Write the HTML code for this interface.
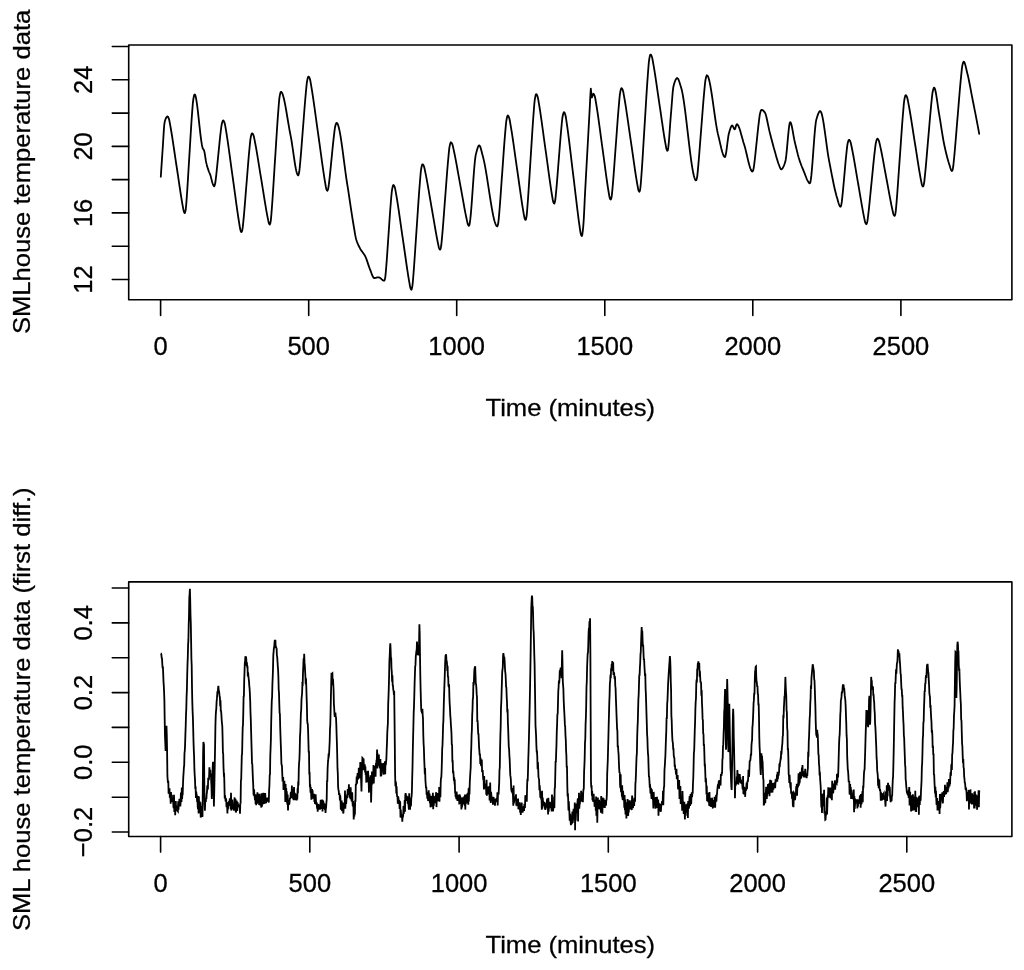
<!DOCTYPE html>
<html lang="en"><head><meta charset="utf-8"><title>SML house temperature data</title>
<style>
html,body{margin:0;padding:0;background:#fff}
body{width:1024px;height:970px;overflow:hidden}
svg{display:block}
text{font-family:"Liberation Sans",Arial,Helvetica,sans-serif;font-size:25.5px;fill:#000;stroke:#000;stroke-width:.3px}
text.t{font-size:25.6px}
.l{fill:none;stroke:#000;stroke-width:1.6;stroke-linecap:round;stroke-linejoin:round}
</style></head><body>
<svg width="1024" height="970" viewBox="0 0 1024 970">
<rect width="1024" height="970" fill="#fff"/>
<g id="plot-top">
<rect class="l" x="128.7" y="45.0" width="883.2" height="254.8"/>
<path class="l" d="M160.6,299.8v15.6M308.7,299.8v15.6M456.7,299.8v15.6M604.8,299.8v15.6M752.8,299.8v15.6M900.9,299.8v15.6M128.7,279.5h-16.4M128.7,246.2h-16.4M128.7,212.9h-16.4M128.7,179.6h-16.4M128.7,146.4h-16.4M128.7,113.1h-16.4M128.7,79.8h-16.4M128.7,46.5h-16.4"/>
<text transform="translate(160.6,355.0) scale(1,1.04)" text-anchor="middle">0</text>
<text transform="translate(308.7,355.0) scale(1,1.04)" text-anchor="middle">500</text>
<text transform="translate(456.7,355.0) scale(1,1.04)" text-anchor="middle">1000</text>
<text transform="translate(604.8,355.0) scale(1,1.04)" text-anchor="middle">1500</text>
<text transform="translate(752.8,355.0) scale(1,1.04)" text-anchor="middle">2000</text>
<text transform="translate(900.9,355.0) scale(1,1.04)" text-anchor="middle">2500</text>
<text transform="translate(91.8,279.5) rotate(-90) scale(1,1.04)" text-anchor="middle">12</text>
<text transform="translate(91.8,212.9) rotate(-90) scale(1,1.04)" text-anchor="middle">16</text>
<text transform="translate(91.8,146.4) rotate(-90) scale(1,1.04)" text-anchor="middle">20</text>
<text transform="translate(91.8,79.8) rotate(-90) scale(1,1.04)" text-anchor="middle">24</text>
<text class="t" transform="translate(570.3,416.2) scale(1,0.965)" text-anchor="middle">Time (minutes)</text>
<text class="t" transform="translate(30.0,171.9) rotate(-90) scale(1,0.965)" text-anchor="middle">SMLhouse temperature data</text>
<path class="l" style="stroke-width:1.8" d="M160.8,176.8l0.5-7.7l0.5-7.5l0.5-7.3l0.5-7.3l0.5-8.3l0.5-8.1l0.5-6.3l0.5-3l0.5-1.5l0.5-1.3l0.5-1l0.5-0.6l0.5-0.4l0.5,0.1l0.5,0.8l0.5,1.2l0.5,1.7l0.5,2.7l0.5,2.7l0.5,2.8l0.5,3l0.5,3l0.5,3.2l0.5,3.3l0.5,3.3l0.5,3.3l0.5,3.4l0.5,3.4l0.5,3.4l0.5,3.4l0.5,3.3l0.5,3.2l0.5,3.3l0.5,3.4l0.5,3.3l0.5,3.4l0.5,3.4l0.5,3.4l0.5,3.3l0.5,3.3l0.5,3.2l0.5,3l0.5,3l0.5,2.7l0.5,2.8l0.5,2.2l0.5,1.2l0.5,0.5l0.5-1.3l0.5-2.8l0.5-5.4l0.5-6.9l0.5-7.2l0.5-7.9l0.5-8.3l0.5-8.3l0.5-8.1l0.5-8.1l0.5-8.4l0.5-8.2l0.5-7.9l0.5-7.3l0.5-6.9l0.5-6.4l0.5-4.4l0.5-2.7l0.5-1.9l0.5-0.3l0.5,0.9l0.5,1.8l0.5,2.5l0.5,3.2l0.5,3.7l0.5,4.2l0.5,4.4l0.5,4.6l0.5,4.6l0.5,4.6l0.5,4.4l0.5,4.1l0.5,3.7l0.5,3.1l0.5,2.5l0.5,1.7l0.5,0.9l0.5,0.6l0.5,1.4l0.5,2.6l0.5,3.3l0.5,3.2l0.5,2.5l0.5,2l0.5,1.8l0.5,1.7l0.5,1.5l0.5,1.4l0.5,1.2l0.5,1.1l0.5,1.3l0.5,1.7l0.5,2l0.5,2l0.5,1.9l0.5,1.5l0.5,1.2l0.5,1l0.5,0.1l0.5-1.3l0.5-2.2l0.5-3.9l0.5-4.3l0.5-4.7l0.5-5l0.5-5.1l0.5-4.9l0.5-5l0.5-5.1l0.5-5l0.5-4.6l0.5-4.2l0.5-4.1l0.5-3l0.5-1.8l0.5-1.3l0.5-0.4l0.5,0.6l0.5,1.1l0.5,1.5l0.5,2.6l0.5,3l0.5,3l0.5,3.1l0.5,3.3l0.5,3.3l0.5,3.5l0.5,3.6l0.5,3.6l0.5,3.6l0.5,3.7l0.5,3.7l0.5,3.7l0.5,3.6l0.5,3.6l0.5,3.5l0.5,3.6l0.5,3.6l0.5,3.7l0.5,3.6l0.5,3.7l0.5,3.7l0.5,3.7l0.5,3.6l0.5,3.5l0.5,3.5l0.5,3.3l0.5,3.2l0.5,3.1l0.5,3l0.5,2.8l0.5,1.6l0.5,0.9l0.5-0.3l0.5-1.8l0.5-3.1l0.5-5l0.5-5.2l0.5-5.7l0.5-6.1l0.5-6.2l0.5-6.3l0.5-6.1l0.5-6.1l0.5-6.2l0.5-6.3l0.5-6.1l0.5-5.9l0.5-5.4l0.5-5.2l0.5-4.9l0.5-3.2l0.5-2.1l0.5-1.4l0.5-0.2l0.5,0.6l0.5,1l0.5,1.4l0.5,2.3l0.5,2.6l0.5,2.5l0.5,2.7l0.5,2.8l0.5,2.9l0.5,3l0.5,3l0.5,3.1l0.5,3.1l0.5,3.1l0.5,3.2l0.5,3.1l0.5,3l0.5,3l0.5,3l0.5,3.1l0.5,3.1l0.5,3.1l0.5,3.1l0.5,3.2l0.5,3.1l0.5,3l0.5,3l0.5,2.9l0.5,2.8l0.5,2.7l0.5,2.6l0.5,2.5l0.5,2.1l0.5,1l0.5,0.5l0.5-1.2l0.5-2.7l0.5-5.2l0.5-6.5l0.5-6.8l0.5-7.3l0.5-7.7l0.5-7.9l0.5-8l0.5-7.8l0.5-7.6l0.5-7.8l0.5-8l0.5-7.8l0.5-7.6l0.5-7.2l0.5-6.5l0.5-6.6l0.5-5.6l0.5-3.2l0.5-2.4l0.5-1.3l0.5,0.1l0.5,0.6l0.5,0.9l0.5,1.4l0.5,1.6l0.5,1.9l0.5,2.2l0.5,2.4l0.5,2.5l0.5,2.8l0.5,2.8l0.5,3l0.5,3l0.5,3l0.5,3l0.5,2.9l0.5,2.9l0.5,2.7l0.5,2.6l0.5,2.5l0.5,2.8l0.5,3.1l0.5,3.3l0.5,3.4l0.5,3.5l0.5,3.5l0.5,3.3l0.5,3.3l0.5,3l0.5,2.7l0.5,2.4l0.5,1.9l0.5,1.4l0.5,0.9l0.5,0.2l0.5-1.4l0.5-2.4l0.5-4.7l0.5-5.4l0.5-5.7l0.5-6.1l0.5-6.5l0.5-6.5l0.5-6.4l0.5-6.2l0.5-6.5l0.5-6.5l0.5-6.3l0.5-6l0.5-5.5l0.5-5.4l0.5-4.9l0.5-2.9l0.5-2.1l0.5-1.3l0.5,0.1l0.5,0.8l0.5,1.2l0.5,1.9l0.5,2.8l0.5,3l0.5,3l0.5,3.1l0.5,3.3l0.5,3.4l0.5,3.4l0.5,3.5l0.5,3.6l0.5,3.7l0.5,3.6l0.5,3.7l0.5,3.6l0.5,3.6l0.5,3.6l0.5,3.5l0.5,3.5l0.5,3.6l0.5,3.6l0.5,3.6l0.5,3.7l0.5,3.6l0.5,3.7l0.5,3.5l0.5,3.6l0.5,3.4l0.5,3.4l0.5,3.3l0.5,3.1l0.5,2.9l0.5,3l0.5,2.4l0.5,1.2l0.5,0.6l0.5-0.8l0.5-1.7l0.5-3.3l0.5-4.2l0.5-4.5l0.5-4.9l0.5-5l0.5-5.1l0.5-4.9l0.5-5.1l0.5-5l0.5-4.9l0.5-4.5l0.5-4.2l0.5-4l0.5-2.6l0.5-1.7l0.5-1.2l0.5-0.2l0.5,0.5l0.5,0.9l0.5,1.4l0.5,1.8l0.5,2.1l0.5,2.5l0.5,2.8l0.5,3l0.5,3.3l0.5,3.4l0.5,3.6l0.5,3.7l0.5,3.8l0.5,3.9l0.5,3.8l0.5,3.8l0.5,3.8l0.5,3.6l0.5,3.5l0.5,3.4l0.5,3.1l0.5,3.1l0.5,3.2l0.5,3.3l0.5,3.3l0.5,3.4l0.5,3.3l0.5,3.4l0.5,3.3l0.5,3.2l0.5,3.3l0.5,3.1l0.5,3l0.5,3l0.5,3l0.5,3.1l0.5,2.8l0.5,2.4l0.5,1.9l0.5,1.6l0.5,1.4l0.5,1.2l0.5,1.1l0.5,1l0.5,1l0.5,0.9l0.5,1l0.5,0.8l0.5,0.8l0.5,0.7l0.5,0.6l0.5,0.7l0.5,0.7l0.5,0.7l0.5,0.7l0.5,0.9l0.5,0.9l0.5,1.1l0.5,1.2l0.5,1.4l0.5,1.5l0.5,1.5l0.5,1.5l0.5,1.5l0.5,1.4l0.5,1.4l0.5,1.3l0.5,1.2l0.5,1.3l0.5,1.4l0.5,1.2l0.5,1.2l0.5,0.9l0.5,0.5l0.5,0.2l0.5-0.1l0.5-0.1l0.5-0.1l0.5-0.1l0.5-0.2l0.5-0.1l0.5-0.1l0.5,0l0.5,0.1l0.5,0.1l0.5,0.3l0.5,0.3l0.5,0.4l0.5,0.4l0.5,0.5l0.5,0.4l0.5,0.4l0.5,0.3l0.5,0.1l0.5,0.1l0.5-1.1l0.5-2.5l0.5-4.9l0.5-6.1l0.5-6.5l0.5-7.1l0.5-7.4l0.5-7.3l0.5-7.2l0.5-7.3l0.5-7.3l0.5-7l0.5-6.2l0.5-6.2l0.5-5.1l0.5-3.1l0.5-2.2l0.5-1.2l0.5,0.3l0.5,0.9l0.5,1.2l0.5,2l0.5,2.9l0.5,2.8l0.5,2.9l0.5,3.1l0.5,3.2l0.5,3.3l0.5,3.3l0.5,3.5l0.5,3.4l0.5,3.6l0.5,3.5l0.5,3.5l0.5,3.5l0.5,3.4l0.5,3.4l0.5,3.4l0.5,3.4l0.5,3.5l0.5,3.5l0.5,3.5l0.5,3.5l0.5,3.5l0.5,3.5l0.5,3.3l0.5,3.3l0.5,3.2l0.5,3l0.5,2.9l0.5,2.9l0.5,2.5l0.5,1.4l0.5,0.7l0.5-0.8l0.5-2.3l0.5-4.3l0.5-6.1l0.5-6.3l0.5-6.9l0.5-7.2l0.5-7.5l0.5-7.5l0.5-7.4l0.5-7.2l0.5-7.4l0.5-7.5l0.5-7.4l0.5-7.3l0.5-6.8l0.5-6.3l0.5-6.3l0.5-5.6l0.5-3.4l0.5-2.4l0.5-1.4l0.5-0.1l0.5,0.7l0.5,1l0.5,1.5l0.5,2.3l0.5,2.4l0.5,2.4l0.5,2.6l0.5,2.6l0.5,2.8l0.5,2.8l0.5,2.9l0.5,2.9l0.5,2.9l0.5,3l0.5,2.9l0.5,2.9l0.5,2.9l0.5,2.8l0.5,2.9l0.5,2.9l0.5,2.9l0.5,2.9l0.5,3l0.5,2.9l0.5,2.9l0.5,2.9l0.5,2.8l0.5,2.7l0.5,2.6l0.5,2.5l0.5,2.4l0.5,2.3l0.5,1.5l0.5,0.8l0.5,0l0.5-1.6l0.5-2.9l0.5-5.1l0.5-5.5l0.5-5.9l0.5-6.3l0.5-6.6l0.5-6.6l0.5-6.6l0.5-6.4l0.5-6.6l0.5-6.6l0.5-6.6l0.5-6.4l0.5-6l0.5-5.5l0.5-5.5l0.5-4.7l0.5-2.7l0.5-2l0.5-1.1l0.5,0.2l0.5,0.7l0.5,1l0.5,1.6l0.5,2.3l0.5,2.3l0.5,2.3l0.5,2.4l0.5,2.6l0.5,2.6l0.5,2.7l0.5,2.7l0.5,2.8l0.5,2.8l0.5,2.8l0.5,2.8l0.5,2.8l0.5,2.7l0.5,2.7l0.5,2.7l0.5,2.7l0.5,2.8l0.5,2.8l0.5,2.8l0.5,2.8l0.5,2.8l0.5,2.8l0.5,2.7l0.5,2.6l0.5,2.5l0.5,2.4l0.5,2.4l0.5,2.2l0.5,2.1l0.5,1l0.5,0.6l0.5-0.6l0.5-2.2l0.5-3.8l0.5-4.9l0.5-5.8l0.5-6.6l0.5-7l0.5-7.2l0.5-7.1l0.5-6.9l0.5-6.2l0.5-5.5l0.5-4.3l0.5-3.1l0.5-2l0.5-1.9l0.5-1.7l0.5-1.5l0.5-1.2l0.5-0.7l0.5-0.2l0.5,0.5l0.5,1l0.5,1.5l0.5,1.8l0.5,2l0.5,2l0.5,1.9l0.5,1.9l0.5,2.1l0.5,2.3l0.5,2.5l0.5,2.7l0.5,2.8l0.5,3l0.5,3l0.5,3.2l0.5,3.2l0.5,3.3l0.5,3.2l0.5,3.3l0.5,3.2l0.5,3.2l0.5,3.2l0.5,3l0.5,2.9l0.5,2.8l0.5,2.6l0.5,2.5l0.5,2.2l0.5,2l0.5,1.8l0.5,1.5l0.5,1.2l0.5,0.9l0.5,0.5l0.5,0.2l0.5-1.1l0.5-2.4l0.5-4.6l0.5-5.9l0.5-6.1l0.5-6.6l0.5-7l0.5-7.1l0.5-7.1l0.5-6.8l0.5-7l0.5-7.1l0.5-7.1l0.5-6.8l0.5-6.3l0.5-5.9l0.5-5.8l0.5-4.6l0.5-2.7l0.5-2l0.5-0.8l0.5,0.4l0.5,1l0.5,1.3l0.5,2.3l0.5,3l0.5,2.8l0.5,3l0.5,3.1l0.5,3.3l0.5,3.3l0.5,3.4l0.5,3.5l0.5,3.6l0.5,3.5l0.5,3.6l0.5,3.5l0.5,3.6l0.5,3.4l0.5,3.4l0.5,3.5l0.5,3.5l0.5,3.5l0.5,3.6l0.5,3.5l0.5,3.6l0.5,3.5l0.5,3.4l0.5,3.4l0.5,3.3l0.5,3.1l0.5,3l0.5,2.9l0.5,2.8l0.5,1.8l0.5,1l0.5,0l0.5-2l0.5-3.4l0.5-6.2l0.5-6.6l0.5-7.1l0.5-7.6l0.5-7.9l0.5-8l0.5-7.9l0.5-7.7l0.5-7.9l0.5-8l0.5-7.8l0.5-7.6l0.5-7l0.5-6.6l0.5-6.4l0.5-4.7l0.5-2.7l0.5-2.1l0.5-0.6l0.5,0.6l0.5,1.1l0.5,1.5l0.5,2.6l0.5,3l0.5,3l0.5,3.1l0.5,3.2l0.5,3.4l0.5,3.5l0.5,3.5l0.5,3.7l0.5,3.6l0.5,3.7l0.5,3.7l0.5,3.6l0.5,3.7l0.5,3.5l0.5,3.5l0.5,3.6l0.5,3.6l0.5,3.7l0.5,3.7l0.5,3.7l0.5,3.6l0.5,3.7l0.5,3.5l0.5,3.5l0.5,3.4l0.5,3.3l0.5,3.1l0.5,3l0.5,3l0.5,2.1l0.5,1.1l0.5,0.4l0.5-1.4l0.5-2.4l0.5-4.6l0.5-5.3l0.5-5.7l0.5-6.1l0.5-6.4l0.5-6.4l0.5-6.2l0.5-6.3l0.5-6.4l0.5-6.3l0.5-6l0.5-5.5l0.5-5.4l0.5-4.7l0.5-3l0.5-2l0.5-1.3l0.5,0.1l0.5,0.9l0.5,1.5l0.5,2.1l0.5,3.3l0.5,3.5l0.5,3.4l0.5,3.7l0.5,3.8l0.5,3.9l0.5,4l0.5,4.1l0.5,4.2l0.5,4.2l0.5,4.2l0.5,4.2l0.5,4.2l0.5,4.2l0.5,4l0.5,4l0.5,4.2l0.5,4.2l0.5,4.2l0.5,4.2l0.5,4.2l0.5,4.2l0.5,4.1l0.5,4l0.5,4l0.5,3.8l0.5,3.6l0.5,3.4l0.5,3.5l0.5,2.7l0.5,1.4l0.5,0.7l0.5-1.5l0.5-3.8l0.5-4.8l0.5-7.2l0.5-10.2l0.5-10.7l0.5-9.4l0.5-9.2l0.5-9l0.5-9l0.5-9l0.5-9.1l0.5-9l0.5-9.1l0.5-9.1l0.5-9.1l0.5-10.4l0.5-7.8l0.5,4.4l0.5,4.4l0.5-0.9l0.5-1.6l0.5-1.2l0.5,0.3l0.5,0.9l0.5,1.3l0.5,2.2l0.5,3l0.5,3l0.5,3.1l0.5,3.3l0.5,3.3l0.5,3.5l0.5,3.6l0.5,3.7l0.5,3.7l0.5,3.7l0.5,3.7l0.5,3.7l0.5,3.7l0.5,3.6l0.5,3.6l0.5,3.6l0.5,3.7l0.5,3.7l0.5,3.7l0.5,3.7l0.5,3.7l0.5,3.7l0.5,3.5l0.5,3.5l0.5,3.3l0.5,3.2l0.5,3l0.5,3l0.5,2.2l0.5,1.1l0.5,0.3l0.5-1.4l0.5-2.5l0.5-5l0.5-5.7l0.5-6.1l0.5-6.5l0.5-6.7l0.5-7l0.5-6.8l0.5-6.7l0.5-6.7l0.5-6.9l0.5-6.9l0.5-6.7l0.5-6.3l0.5-5.9l0.5-5.7l0.5-5.1l0.5-3.2l0.5-2.2l0.5-1.4l0.5,0.1l0.5,0.7l0.5,1.2l0.5,1.8l0.5,2.8l0.5,2.8l0.5,2.9l0.5,3l0.5,3.2l0.5,3.2l0.5,3.4l0.5,3.4l0.5,3.5l0.5,3.5l0.5,3.5l0.5,3.5l0.5,3.4l0.5,3.5l0.5,3.3l0.5,3.4l0.5,3.4l0.5,3.5l0.5,3.5l0.5,3.5l0.5,3.5l0.5,3.5l0.5,3.4l0.5,3.4l0.5,3.3l0.5,3.1l0.5,3.1l0.5,2.9l0.5,2.8l0.5,2.5l0.5,1.4l0.5,0.7l0.5-0.8l0.5-2.6l0.5-4.7l0.5-6.7l0.5-6.9l0.5-7.5l0.5-7.9l0.5-8.2l0.5-8.2l0.5-8.1l0.5-7.9l0.5-8.1l0.5-8.2l0.5-8.2l0.5-7.9l0.5-7.5l0.5-6.9l0.5-6.8l0.5-6.2l0.5-3.7l0.5-2.6l0.5-1.6l0.5,0l0.5,0.7l0.5,1.2l0.5,1.8l0.5,2.7l0.5,2.8l0.5,2.8l0.5,3l0.5,3.2l0.5,3.2l0.5,3.3l0.5,3.4l0.5,3.5l0.5,3.4l0.5,3.5l0.5,3.4l0.5,3.4l0.5,3.4l0.5,3.3l0.5,3.3l0.5,3.5l0.5,3.4l0.5,3.5l0.5,3.4l0.5,3.5l0.5,3.3l0.5,3.3l0.5,3.2l0.5,3l0.5,2.9l0.5,2.8l0.5,2.7l0.5,1.4l0.5,0.9l0.5-0.4l0.5-2.9l0.5-4.9l0.5-6.3l0.5-6.9l0.5-7.1l0.5-6.4l0.5-5.8l0.5-6.5l0.5-6.5l0.5-5.8l0.5-4.1l0.5-2.1l0.5-1.7l0.5-1.5l0.5-1.3l0.5-1.1l0.5-0.7l0.5-0.5l0.5-0.1l0.5,0.3l0.5,0.8l0.5,1.1l0.5,1.4l0.5,1.5l0.5,1.7l0.5,1.6l0.5,1.7l0.5,1.9l0.5,2.3l0.5,2.7l0.5,2.9l0.5,3.2l0.5,3.5l0.5,3.7l0.5,3.8l0.5,4l0.5,4.1l0.5,4.2l0.5,4.3l0.5,4.3l0.5,4.3l0.5,4.2l0.5,4.2l0.5,4.1l0.5,4l0.5,3.8l0.5,3.6l0.5,3.4l0.5,3.1l0.5,2.9l0.5,2.6l0.5,2.2l0.5,1.8l0.5,1.5l0.5,1l0.5,0.5l0.5-0.1l0.5-1.6l0.5-2.8l0.5-5l0.5-5.4l0.5-5.7l0.5-6.2l0.5-6.5l0.5-6.5l0.5-6.4l0.5-6.3l0.5-6.4l0.5-6.5l0.5-6.4l0.5-6.3l0.5-5.9l0.5-5.4l0.5-5.4l0.5-4.5l0.5-2.7l0.5-1.9l0.5-1.1l0.5,0.2l0.5,0.6l0.5,1.1l0.5,1.6l0.5,1.9l0.5,2.2l0.5,2.6l0.5,2.8l0.5,3l0.5,3.2l0.5,3.4l0.5,3.5l0.5,3.5l0.5,3.6l0.5,3.5l0.5,3.5l0.5,3.5l0.5,3.3l0.5,3.1l0.5,2.9l0.5,2.7l0.5,2.4l0.5,2.1l0.5,2.1l0.5,2.1l0.5,2.2l0.5,2.2l0.5,2.2l0.5,2.1l0.5,1.9l0.5,1.8l0.5,1.6l0.5,1.3l0.5,1l0.5,0.7l0.5,0.3l0.5-0.5l0.5-1.9l0.5-3l0.5-3.6l0.5-4l0.5-3.9l0.5-3.6l0.5-2.8l0.5-1.8l0.5-1.6l0.5-1.6l0.5-1.3l0.5-1.1l0.5-0.6l0.5-0.2l0.5,0.6l0.5,1l0.5,1.1l0.5,0.9l0.5,0.3l0.5-1l0.5-1.8l0.5-1.7l0.5-0.7l0.5,0.2l0.5,0.5l0.5,0.8l0.5,1.1l0.5,1.2l0.5,1.5l0.5,1.6l0.5,1.8l0.5,1.8l0.5,1.8l0.5,1.8l0.5,1.8l0.5,1.8l0.5,1.6l0.5,1.5l0.5,1.7l0.5,1.9l0.5,2l0.5,2.1l0.5,2.1l0.5,2.2l0.5,2.1l0.5,2.1l0.5,2l0.5,1.9l0.5,1.7l0.5,1.5l0.5,1.2l0.5,1l0.5,0.7l0.5,0.4l0.5-0.3l0.5-1.4l0.5-2.4l0.5-3.9l0.5-4.1l0.5-4.5l0.5-4.8l0.5-4.8l0.5-4.7l0.5-4.8l0.5-4.8l0.5-4.7l0.5-4.1l0.5-4.1l0.5-3.6l0.5-2.2l0.5-1.6l0.5-0.9l0.5-0.1l0.5,0.2l0.5,0.3l0.5,0.4l0.5,0.5l0.5,0.6l0.5,0.6l0.5,0.9l0.5,1.4l0.5,1.8l0.5,2.2l0.5,2.3l0.5,2.5l0.5,2.4l0.5,2.4l0.5,2.3l0.5,2l0.5,1.9l0.5,2l0.5,1.9l0.5,1.9l0.5,1.9l0.5,1.9l0.5,1.8l0.5,1.9l0.5,1.7l0.5,1.8l0.5,1.8l0.5,1.8l0.5,1.8l0.5,1.7l0.5,1.7l0.5,1.6l0.5,1.5l0.5,1.3l0.5,1.3l0.5,1.3l0.5,1.1l0.5,0.9l0.5,0.2l0.5-0.2l0.5-0.5l0.5-0.7l0.5-1l0.5-1.1l0.5-1.2l0.5-1.4l0.5-1.4l0.5-2.6l0.5-4l0.5-4.9l0.5-5.4l0.5-5.7l0.5-5.4l0.5-4.8l0.5-3.8l0.5-2.4l0.5-0.6l0.5,0.6l0.5,1.4l0.5,2l0.5,2.5l0.5,2.7l0.5,2.9l0.5,2.8l0.5,2.6l0.5,2.3l0.5,2.1l0.5,2.1l0.5,2.1l0.5,2.1l0.5,2l0.5,2l0.5,1.8l0.5,1.8l0.5,1.6l0.5,1.5l0.5,1.4l0.5,1.4l0.5,1.3l0.5,1.3l0.5,1.2l0.5,1.2l0.5,1.2l0.5,1.2l0.5,1.3l0.5,1.3l0.5,1.3l0.5,1.3l0.5,1.3l0.5,1.3l0.5,1l0.5,0.9l0.5,0.8l0.5,0.8l0.5,0.6l0.5,0.2l0.5-0.9l0.5-2.6l0.5-4l0.5-5.2l0.5-6l0.5-6.5l0.5-6.8l0.5-6.9l0.5-6.6l0.5-6.1l0.5-5.2l0.5-4.2l0.5-2.7l0.5-1.7l0.5-1.6l0.5-1.5l0.5-1.3l0.5-1.1l0.5-0.8l0.5-0.5l0.5-0.1l0.5,0.5l0.5,1l0.5,1.5l0.5,2.1l0.5,2.4l0.5,2.8l0.5,3.1l0.5,3.3l0.5,3.6l0.5,3.6l0.5,3.7l0.5,3.7l0.5,3.7l0.5,3.6l0.5,3.4l0.5,3.2l0.5,2.9l0.5,2.6l0.5,2.6l0.5,2.6l0.5,2.6l0.5,2.6l0.5,2.6l0.5,2.5l0.5,2.5l0.5,2.5l0.5,2.4l0.5,2.3l0.5,2.2l0.5,2.1l0.5,2l0.5,1.9l0.5,1.7l0.5,1.7l0.5,1.8l0.5,1.8l0.5,1.6l0.5,1.3l0.5,1l0.5,0.6l0.5-0.3l0.5-1.7l0.5-2.8l0.5-4.5l0.5-4.9l0.5-5.4l0.5-5.6l0.5-5.6l0.5-5.5l0.5-5.7l0.5-5.5l0.5-4.9l0.5-4.7l0.5-4.3l0.5-2.6l0.5-1.8l0.5-1.1l0.5,0l0.5,0.7l0.5,1l0.5,1.5l0.5,2.3l0.5,2.5l0.5,2.4l0.5,2.6l0.5,2.7l0.5,2.7l0.5,2.9l0.5,2.9l0.5,2.9l0.5,3l0.5,3l0.5,2.9l0.5,3l0.5,2.9l0.5,2.8l0.5,2.9l0.5,2.9l0.5,3l0.5,3l0.5,2.9l0.5,3l0.5,2.9l0.5,2.8l0.5,2.8l0.5,2.7l0.5,2.5l0.5,2.5l0.5,2.4l0.5,1.9l0.5,1l0.5,0.5l0.5-0.8l0.5-1.7l0.5-3.3l0.5-4.3l0.5-4.3l0.5-4.7l0.5-5l0.5-5.1l0.5-5.1l0.5-5l0.5-5l0.5-5l0.5-5.1l0.5-5.1l0.5-4.9l0.5-4.6l0.5-4.2l0.5-4.3l0.5-3.5l0.5-2.1l0.5-1.6l0.5-0.8l0.5,0.2l0.5,0.7l0.5,1l0.5,1.6l0.5,2.2l0.5,2.2l0.5,2.3l0.5,2.3l0.5,2.5l0.5,2.6l0.5,2.6l0.5,2.7l0.5,2.7l0.5,2.8l0.5,2.7l0.5,2.7l0.5,2.7l0.5,2.7l0.5,2.6l0.5,2.7l0.5,2.7l0.5,2.7l0.5,2.7l0.5,2.8l0.5,2.7l0.5,2.6l0.5,2.6l0.5,2.6l0.5,2.4l0.5,2.3l0.5,2.2l0.5,2.2l0.5,1.4l0.5,0.7l0.5,0l0.5-1.8l0.5-3.1l0.5-5.6l0.5-5.9l0.5-6.4l0.5-6.9l0.5-7.1l0.5-7.2l0.5-7.2l0.5-7l0.5-7l0.5-7.2l0.5-7.2l0.5-7.1l0.5-6.8l0.5-6.3l0.5-5.9l0.5-5.9l0.5-4.2l0.5-2.5l0.5-1.8l0.5-0.6l0.5,0.5l0.5,1l0.5,1.3l0.5,2.3l0.5,2.6l0.5,2.6l0.5,2.7l0.5,2.9l0.5,3l0.5,3l0.5,3.1l0.5,3.2l0.5,3.2l0.5,3.2l0.5,3.3l0.5,3.2l0.5,3.1l0.5,3.1l0.5,3.1l0.5,3.1l0.5,3.2l0.5,3.2l0.5,3.3l0.5,3.2l0.5,3.1l0.5,3.2l0.5,3l0.5,2.9l0.5,2.9l0.5,2.7l0.5,2.6l0.5,2.4l0.5,1.4l0.5,0.8l0.5-0.3l0.5-1.6l0.5-3l0.5-4.7l0.5-4.9l0.5-5.3l0.5-5.7l0.5-5.9l0.5-5.9l0.5-5.9l0.5-5.6l0.5-5.8l0.5-6l0.5-5.9l0.5-5.7l0.5-5.5l0.5-5.1l0.5-4.8l0.5-4.7l0.5-3l0.5-2l0.5-1.3l0.5-0.2l0.5,0.8l0.5,1.7l0.5,2.3l0.5,2.8l0.5,3.2l0.5,3.4l0.5,3.6l0.5,3.4l0.5,3.3l0.5,3l0.5,2.9l0.5,3.1l0.5,3.2l0.5,3.2l0.5,3.2l0.5,3.1l0.5,3.1l0.5,2.8l0.5,2.7l0.5,2.5l0.5,2.3l0.5,2.2l0.5,2.2l0.5,2.1l0.5,2l0.5,1.9l0.5,1.8l0.5,1.8l0.5,1.6l0.5,1.6l0.5,1.6l0.5,1.7l0.5,1.5l0.5,1.1l0.5,0.6l0.5-0.3l0.5-1.7l0.5-3l0.5-5l0.5-5l0.5-5.5l0.5-5.8l0.5-6l0.5-6.1l0.5-6.2l0.5-6l0.5-5.9l0.5-6l0.5-6.1l0.5-6.1l0.5-6l0.5-5.7l0.5-5.3l0.5-5l0.5-4.9l0.5-3.6l0.5-2.2l0.5-1.5l0.5-0.5l0.5,0.5l0.5,1.2l0.5,1.6l0.5,2l0.5,2.1l0.5,2.2l0.5,2l0.5,2l0.5,2.2l0.5,2.4l0.5,2.5l0.5,2.5l0.5,2.6l0.5,2.7l0.5,2.7l0.5,2.6l0.5,2.6l0.5,2.5l0.5,2.5l0.5,2.5l0.5,2.6l0.5,2.5l0.5,2.5l0.5,2.6l0.5,2.6l0.5,2.6l0.5,2.7l0.5,2.6l0.5,2.7l0.5,2.7l0.4,2.2"/>
</g>
<g id="plot-bottom">
<rect class="l" x="128.7" y="581.9" width="883.2" height="254.6"/>
<path class="l" d="M160.6,836.5v15.6M309.8,836.5v15.6M459.1,836.5v15.6M608.3,836.5v15.6M757.6,836.5v15.6M906.8,836.5v15.6M128.7,832.0h-16.4M128.7,797.2h-16.4M128.7,762.3h-16.4M128.7,727.4h-16.4M128.7,692.6h-16.4M128.7,657.7h-16.4M128.7,622.9h-16.4M128.7,588.0h-16.4"/>
<text transform="translate(160.6,891.7) scale(1,1.04)" text-anchor="middle">0</text>
<text transform="translate(309.8,891.7) scale(1,1.04)" text-anchor="middle">500</text>
<text transform="translate(459.1,891.7) scale(1,1.04)" text-anchor="middle">1000</text>
<text transform="translate(608.3,891.7) scale(1,1.04)" text-anchor="middle">1500</text>
<text transform="translate(757.6,891.7) scale(1,1.04)" text-anchor="middle">2000</text>
<text transform="translate(906.8,891.7) scale(1,1.04)" text-anchor="middle">2500</text>
<text transform="translate(91.8,832.0) rotate(-90) scale(1,1.04)" text-anchor="middle">−0.2</text>
<text transform="translate(91.8,762.3) rotate(-90) scale(1,1.04)" text-anchor="middle">0.0</text>
<text transform="translate(91.8,692.6) rotate(-90) scale(1,1.04)" text-anchor="middle">0.2</text>
<text transform="translate(91.8,622.9) rotate(-90) scale(1,1.04)" text-anchor="middle">0.4</text>
<text class="t" transform="translate(570.3,952.9) scale(1,0.965)" text-anchor="middle">Time (minutes)</text>
<text class="t" transform="translate(30.0,709.2) rotate(-90) scale(1,0.965)" text-anchor="middle">SML house temperature data (first diff.)</text>
<path class="l" style="stroke-width:1.8;stroke-linejoin:miter;stroke-linecap:butt" d="M160.8,653.6l0.3,0l0.3,1.5l0.3,2.9l0.3,0.2l0.3,5.7l0.3,4.3l0.3-1.7l0.3,7.1l0.3,8l0.3,4.3l0.3,6.2l0.3,8.9l0.3,19.5l0.3,16l0.3,6.8l0.3,7.7l0.3-11.7l0.3-5l0.3-8.6l0.3,10.4l0.3,15.3l0.3,24.5l0.3,4.2l0.3,2.9l0.3-2.3l0.3,13.1l0.3-1.8l0.3,1l0.3-4.7l0.3,9.5l0.3-3.7l0.3,2.9l0.3,6.7l0.3-11.7l0.3,8.1l0.3,1.5l0.3-6.9l0.3,6.4l0.3,0.3l0.3,0l0.3-3.6l0.3,8.8l0.3,1.4l0.3-13.2l0.3,17.1l0.3-8.6l0.3,0l0.3,11.9l0.3-11.2l0.3-3l0.3,10.2l0.3-1.7l0.3-4l0.3,5.4l0.3-4.8l0.3,4.9l0.3,0.4l0.3-10.1l0.3,8.3l0.3-5.9l0.3,2.7l0.3-7.6l0.3,5.4l0.3-0.4l0.3,2.6l0.3-3.2l0.3-10.8l0.3,7.3l0.3,2.2l0.3-14.5l0.3,11.5l0.3-5.4l0.3,0.2l0.3-9.9l0.3-6.9l0.3-4.1l0.3-5.4l0.3-2.1l0.3-12.3l0.3-2.2l0.3-6.4l0.3-10l0.3-8.1l0.3-11.2l0.3-6.2l0.3-12.6l0.3-6.7l0.3-14.2l0.3-11l0.3-7.1l0.3-12.4l0.3-5l0.3-14.6l0.3-9.7l0.3-17.8l0.3-3.5l0.3-5.6l0.3,10.8l0.3,15.3l0.3,8.2l0.3,17.4l0.3,18.3l0.3,7.1l0.3,21.6l0.3,14.5l0.3,9.2l0.3,6.5l0.3,11.4l0.3,12.6l0.3,8.5l0.3,6.4l0.3,12.9l0.3,5.8l0.3,4.2l0.3,9.9l0.3-3l0.3,11.7l0.3-6.4l0.3,2.8l0.3,0.6l0.3,6.9l0.3-4.8l0.3,9.6l0.3,2.5l0.3-13.2l0.3,17.6l0.3-17l0.3,16.5l0.3-12.1l0.3,10.7l0.3-6.2l0.3-3.3l0.3,15.4l0.3-6.3l0.3-5.5l0.3,3.6l0.3,1l0.3-3.1l0.3,9.6l0.3-29.1l0.3-34.3l0.3-11.6l0.3,1.5l0.3,1.4l0.3,37.9l0.3,21.5l0.3,6.4l0.3-8.3l0.3-2l0.3,1.5l0.3-3.4l0.3,0.9l0.3-5.5l0.3-1.6l0.3-7l0.3,2l0.3,2.5l0.3-12l0.3,1.1l0.3,1.3l0.3-2.9l0.3-10l0.3,8.3l0.3-3.3l0.3-2.5l0.3,7.2l0.3-3.4l0.3,8.5l0.3,4.8l0.3,12.2l0.3-10.2l0.3-7.1l0.3-14.7l0.3-5.2l0.3,13.2l0.3,10.3l0.3,21.3l0.3-11.8l0.3-15.5l0.3-17.1l0.3-15.5l0.3-19.9l0.3-10.7l0.3-4.8l0.3-2.7l0.3-6.7l0.3-3l0.3-4l0.3-3.8l0.3,2.3l0.3-5.8l0.3-1.7l0.3,4.3l0.3,0.8l0.3,2.2l0.3,3.3l0.3,0.6l0.3,9l0.3-5.9l0.3,11.5l0.3-1.1l0.3,4.3l0.3,5.4l0.3,3.2l0.3,2.7l0.3,11.2l0.3,15l0.3,1.4l0.3,13.3l0.3,6.5l0.3-0.6l0.3,11l0.3,14.5l0.3-3.3l0.3,2.5l0.3,3.8l0.3-3.1l0.3,1.1l0.3,7.8l0.3-5.2l0.3,1.2l0.3,10.2l0.3-7.7l0.3,3.7l0.3-7.1l0.3,3.7l0.3-3.6l0.3,0.3l0.3,2.7l0.3-7.2l0.3,6.9l0.3-2.6l0.3,6.5l0.3-16.3l0.3,17.8l0.3-9.6l0.3,3.4l0.3-4.8l0.3,8l0.3,1.8l0.3-5.8l0.3,3.3l0.3-1.9l0.3,5.7l0.3-8.6l0.3-4.7l0.3,11.1l0.3-9l0.3-0.7l0.3,13.6l0.3-0.7l0.3-9.9l0.3-1.3l0.3,3.6l0.3,6.8l0.3-8.7l0.3,2.8l0.3-0.1l0.3,0.3l0.3,2.1l0.3-2l0.3,1.3l0.3-1.7l0.3,8.9l0.3-10.9l0.3,0.9l0.3-23l0.3-1.3l0.3-12l0.3-12.3l0.3-1l0.3-14.5l0.3-12.2l0.3-2.9l0.3-12.2l0.3-15.8l0.3-0.4l0.3-15.7l0.3-7.9l0.3-9.6l0.3-1.9l0.3-4.9l0.3,3.3l0.3-2.8l0.3,2.9l0.3,6.4l0.3-3.6l0.3,5.3l0.3-2l0.3,10.8l0.3-4.1l0.3,3.7l0.3,2.8l0.3,2.5l0.3,4.6l0.3,2.7l0.3,5.3l0.3,7.1l0.3,11.6l0.3,6.9l0.3,11.4l0.3,10.8l0.3,10.1l0.3,11.5l0.3,0.4l0.3,7.8l0.3,7l0.3,5.7l0.3,9.4l0.3,1.9l0.3-6.3l0.3,5.9l0.3,1.8l0.3,3.2l0.3-6l0.3,9.8l0.3-6.3l0.3,7.6l0.3-10.8l0.3,9.2l0.3-1.2l0.3-10.2l0.3,3.1l0.3,3.5l0.3-2.5l0.3-2.6l0.3,8.8l0.3,2.4l0.3-11.2l0.3,7.1l0.3-2.7l0.3,7.5l0.3-9.6l0.3,4.2l0.3,7.3l0.3-14.3l0.3,13.3l0.3-3.7l0.3-6l0.3,4l0.3,3.4l0.3-11.6l0.3,4.7l0.3-1.6l0.3,6.9l0.3,1l0.3-6l0.3-4.7l0.3,6.5l0.3,1.9l0.3,1.9l0.3-4.3l0.3,2.5l0.3-1.2l0.3-2.6l0.3,2.2l0.3,0l0.3-1.7l0.3,2.8l0.3,1.6l0.3-12.5l0.3-4.2l0.3-10.8l0.3-0.6l0.3-19.3l0.3-7.1l0.3-9l0.3-16.6l0.3-12.3l0.3-10l0.3-3l0.3-12.8l0.3-7.2l0.3-8.3l0.3-13.5l0.3-3.6l0.3-3.9l0.3-0.5l0.3-4.4l0.3-3.2l0.3,3.5l0.3-3.4l0.3,8.2l0.3-1.8l0.3,2.2l0.3-0.8l0.3,8l0.3,1.2l0.3,4.6l0.3,5l0.3,3.4l0.3,7.4l0.3,12.5l0.3,3.1l0.3,11.2l0.3,8.7l0.3,1.2l0.3,13.2l0.3,8.8l0.3,8.7l0.3,7.9l0.3,11.1l0.3,1.1l0.3,2.1l0.3,7.7l0.3,6.9l0.3-1l0.3-3.5l0.3,13l0.3-7.5l0.3,4.2l0.3-6l0.3,6.2l0.3-1.7l0.3,16.9l0.3-18.1l0.3,15.3l0.3-11.3l0.3,10.6l0.3-7.3l0.3,11l0.3,2.4l0.3-10.2l0.3,15.9l0.3-7.7l0.3-2.6l0.3,4.8l0.3-2.8l0.3,0.3l0.3-3.7l0.3-0.6l0.3,0.9l0.3-6l0.3-0.9l0.3,4.4l0.3-0.3l0.3-10.6l0.3,12.3l0.3-6.7l0.3,0.7l0.3,7.3l0.3-9.9l0.3,10.9l0.3-13.2l0.3,11.1l0.3-4.9l0.3,0.4l0.3,6.5l0.3-6l0.3,5.2l0.3-4l0.3-1.5l0.3,6.7l0.3-2.3l0.3,1.4l0.3-11.4l0.3,5.1l0.3-11.9l0.3,4.1l0.3-16.5l0.3-6.3l0.3-2.9l0.3-8.4l0.3-15.1l0.3-4l0.3-9.2l0.3-10.3l0.3-2.7l0.3-10.5l0.3-3.6l0.3-2.7l0.3-9.4l0.3,0.3l0.3-11.7l0.3-6.1l0.3-8l0.3,5.3l0.3-9.8l0.3,8.5l0.3,3l0.3,6l0.3,4.9l0.3,7.8l0.3-5.7l0.3,8.2l0.3,10.1l0.3,8.8l0.3,15.2l0.3,2.9l0.3,0.3l0.3,6.8l0.3,10.5l0.3,11.2l0.3-1.2l0.3,23.3l0.3-2.5l0.3,15.6l0.3-3.4l0.3,8.5l0.3-5.7l0.3,5.7l0.3,7l0.3-8.5l0.3-2.1l0.3,2.7l0.3-1.4l0.3,8.3l0.3-3l0.3-1.3l0.3,1.2l0.3-1.9l0.3,8.3l0.3-2.4l0.3,4.4l0.3-1.9l0.3-7.8l0.3,4.7l0.3,5.6l0.3-2.5l0.3,2.5l0.3,4.2l0.3-5.2l0.3,8.1l0.3-7.7l0.3,3.6l0.3-1.7l0.3-0.2l0.3,0.9l0.3,3.1l0.3-3.1l0.3,2.8l0.3-4.2l0.3-5.3l0.3,9.1l0.3-8l0.3,7.4l0.3-1.1l0.3-7.8l0.3,11.9l0.3-6.7l0.3-1.9l0.3-0.5l0.3,1.7l0.3-0.8l0.3,5.6l0.3-2.2l0.3,3.3l0.3-6.1l0.3,9.1l0.3-3.9l0.3-1.5l0.3-5l0.3-2.7l0.3-19.2l0.3,1.4l0.3-13.3l0.3-5.5l0.3-3l0.3-4.5l0.3,0.4l0.3-2.3l0.3-6.3l0.3-6.3l0.3-12.4l0.3-4.1l0.3-13.5l0.3-14l0.3-13.1l0.3-11.4l0.3,5l0.3-4.1l0.3-0.3l0.3,11.8l0.3-6.4l0.3,5.8l0.3,5.7l0.3,13.8l0.3,4.1l0.3,6.4l0.3,2.4l0.3-2.5l0.3-1.9l0.3,4.4l0.3,0.4l0.3,7.1l0.3,9.8l0.3,8.7l0.3,11.4l0.3,14.1l0.3,4.8l0.3,13.2l0.3,3.3l0.3,0.8l0.3,4.4l0.3-1.7l0.3,1.1l0.3,6.1l0.3-5l0.3,3.1l0.3,11.2l0.3-6.7l0.3,4.5l0.3-7.1l0.3,10.8l0.3-4.9l0.3-0.1l0.3-3.7l0.3,11.1l0.3-1.4l0.3-6l0.3-2.8l0.3,3.5l0.3-0.4l0.3-16l0.3,18.2l0.3-5.6l0.3-2l0.3,2.9l0.3-5.2l0.3-1.8l0.3,0.6l0.3-0.4l0.3-8.2l0.3,3.7l0.3,0.5l0.3,0.4l0.3-9.4l0.3,7.7l0.3,2.1l0.3,3.8l0.3-7.9l0.3,9.3l0.3-11.9l0.3,10.7l0.3-1.1l0.3,4.6l0.3-0.7l0.3-8.6l0.3,10.2l0.3,4.1l0.3-5.4l0.3,3.1l0.3,15.3l0.3-5.5l0.3,2.8l0.3-4.6l0.3,2.6l0.3-14.8l0.3,1.7l0.3-17.1l0.3,0l0.3-0.5l0.3-7.6l0.3,7.2l0.3-6.7l0.3-4l0.3,6.6l0.3-6.1l0.3,5.2l0.3-11l0.3,5.1l0.3,5.4l0.3-2.3l0.3-5.6l0.3-8.3l0.3,6.8l0.3,5.4l0.3,9.1l0.3,8.2l0.3-16.8l0.3-9.1l0.3-7.8l0.3,0.3l0.3,3.6l0.3,8.6l0.3-11.7l0.3,7.9l0.3,0.4l0.3,1.4l0.3-4.1l0.3,8.3l0.3-6l0.3,8.8l0.3-3.5l0.3,10.8l0.3-11.4l0.3,1.6l0.3,4.9l0.3,0.4l0.3,4.1l0.3-11.4l0.3,10.3l0.3,1.4l0.3,10.1l0.3-15.3l0.3,1.3l0.3,7.1l0.3,3l0.3-13.5l0.3,6.6l0.3,20.6l0.3-12.2l0.3-10.9l0.3-7.8l0.3,12.9l0.3-8.1l0.3-3.3l0.3,3.8l0.3-11.9l0.3,18.6l0.3-12.2l0.3,4.9l0.3-1.3l0.3-5.6l0.3-3.3l0.3,10.8l0.3-13.5l0.3,2.4l0.3-5.4l0.3-0.3l0.3-10.4l0.3,19l0.3-15.1l0.3,8.4l0.3,3.4l0.3-9.3l0.3-0.2l0.3,10.4l0.3-3.3l0.3,4.6l0.3,0.5l0.3-8.9l0.3,17.3l0.3-13.7l0.3,13.4l0.3-7.5l0.3,0.3l0.3,1.2l0.3-3.3l0.3,0.6l0.3-4.4l0.3,9.9l0.3,1.8l0.3-5.8l0.3-3.3l0.3-0.7l0.3-3.6l0.3,12.9l0.3-12.9l0.3,3.8l0.3-3.2l0.3-3.2l0.3-9.2l0.3-6.4l0.3-10.8l0.3-4.7l0.3-4.6l0.3-18.9l0.3-7.3l0.3-9.1l0.3-11.4l0.3-15l0.3-5.5l0.3-7.4l0.3-5l0.3,5.5l0.3,9.4l0.3-0.7l0.3,10.9l0.3,3.3l0.3,10l0.3-6.6l0.3,10.1l0.3,0.4l0.3,4.4l0.3,0.4l0.3,4.4l0.3-3.8l0.3,25.1l0.3,27.5l0.3,30.5l0.3,12.1l0.3-5l0.3,1.7l0.3,10.4l0.3-7l0.3,7.9l0.3,2.9l0.3-0.8l0.3,7.3l0.3-7.1l0.3,1.1l0.3,6.2l0.3-2.9l0.3,0.1l0.3,7.8l0.3-7.3l0.3,0.4l0.3,15.5l0.3-8l0.3,5.6l0.3-0.9l0.3,3.8l0.3-2.7l0.3,6.5l0.3-5.7l0.3,1.2l0.3-2.1l0.3-9.2l0.3,8l0.3-5.1l0.3,0.6l0.3-9.5l0.3,11.8l0.3-16.5l0.3-2.1l0.3,1.2l0.3,6.4l0.3-3l0.3-2.1l0.3,5.2l0.3-4.1l0.3,6.9l0.3-7.1l0.3,6.8l0.3,2.6l0.3,3.6l0.3-16.4l0.3,12.3l0.3-2.5l0.3,6.8l0.3-11.4l0.3,7.6l0.3-0.6l0.3-7.4l0.3-1.5l0.3-4.7l0.3-13.2l0.3-10.9l0.3-16.1l0.3-13.8l0.3-11.7l0.3-13.2l0.3-6.3l0.3-10.6l0.3-11.9l0.3-9.3l0.3-8.3l0.3-1.6l0.3-8.5l0.3-2.3l0.3-3.1l0.3-0.9l0.3-8.5l0.3,5.8l0.3-1.2l0.3,8.9l0.3-3.4l0.3,1.9l0.3,1.8l0.3-14.2l0.3-17l0.3,9l0.3,21.5l0.3,20.4l0.3,13.5l0.3,11l0.3,9.7l0.3,2.2l0.3,0.5l0.3,1.4l0.3-4.5l0.3,6.2l0.3,3.4l0.3,16.2l0.3,8.8l0.3,4.8l0.3,10.3l0.3,7.4l0.3,8.2l0.3-6.2l0.3,11.6l0.3,4.4l0.3,4.1l0.3-1.4l0.3,7.9l0.3-2.8l0.3,4.5l0.3-0.5l0.3-1.4l0.3,6.6l0.3-0.9l0.3-9.9l0.3,8.3l0.3,2.4l0.3-7.4l0.3,9.8l0.3-7.5l0.3,11.4l0.3-1.4l0.3-3.7l0.3-6.3l0.3,9.6l0.3-5.1l0.3,1.3l0.3,5.2l0.3-14l0.3,16.5l0.3-10.9l0.3,7.5l0.3-9.1l0.3,0.2l0.3,5.9l0.3-1l0.3-4.1l0.3,3l0.3-5.4l0.3-3.2l0.3,14.9l0.3-9.4l0.3-1.4l0.3,1.2l0.3,3.6l0.3-8.1l0.3,3l0.3,2.2l0.3,2.7l0.3-13.8l0.3,14.6l0.3-14.8l0.3,2.4l0.3,7.9l0.3-14l0.3-5.2l0.3-0.4l0.3-5.9l0.3-10l0.3-12.6l0.3-3.9l0.3-8.6l0.3-11.2l0.3-4.8l0.3-12.4l0.3-10.7l0.3-8.9l0.3-8l0.3-9.6l0.3-9.2l0.3-5.3l0.3,0.2l0.3-2.5l0.3,5.2l0.3,2.4l0.3,1.4l0.3,7.7l0.3-5.2l0.3,11.8l0.3-1.3l0.3,9.8l0.3,0.6l0.3-2.3l0.3,12.5l0.3,7.2l0.3,4.5l0.3,7.1l0.3,3.2l0.3,5.9l0.3,4l0.3,5l0.3,11.3l0.3-0.6l0.3,17.8l0.3-1.9l0.3,12.9l0.3-2.4l0.3,3.7l0.3,6.2l0.3-3.3l0.3,4.8l0.3-0.4l0.3,10.5l0.3,1.2l0.3,3.8l0.3-4.6l0.3,6.6l0.3-7.8l0.3,3.3l0.3,4.4l0.3,1.6l0.3-5.9l0.3,3.8l0.3-0.4l0.3,0.5l0.3-4l0.3,9.6l0.3-10l0.3,7.6l0.3-6.4l0.3,8.1l0.3-2.8l0.3-2.6l0.3,11.3l0.3-12.1l0.3,10l0.3-6.7l0.3-3.6l0.3,5.3l0.3,1.9l0.3-3.6l0.3,1l0.3-1.3l0.3-4.5l0.3,9.7l0.3-11.2l0.3,15.1l0.3-10.7l0.3,2.9l0.3,1.2l0.3-0.3l0.3-8.4l0.3,2.4l0.3,1.9l0.3-5.9l0.3,6.3l0.3,5.7l0.3-16.5l0.3,13.4l0.3-14.2l0.3,7.1l0.3-12.4l0.3-5.1l0.3-5.2l0.3-4.1l0.3-13.4l0.3-6.9l0.3-12.2l0.3-5.5l0.3-14.4l0.3-5.3l0.3-11.2l0.3-0.8l0.3-16.1l0.3,3.6l0.3-5.7l0.3-8.9l0.3-2.4l0.3-1.2l0.3-0.9l0.3,8.6l0.3,8.5l0.3,0.8l0.3,3.8l0.3,6.3l0.3,2.6l0.3,25l0.3-1.8l0.3,7l0.3,6.6l0.3,0.1l0.3,6.7l0.3,7l0.3,3.2l0.3,5l0.3-2.1l0.3,10.2l0.3-6l0.3,6l0.3,2.1l0.3-2.9l0.3-3.5l0.3,11.9l0.3,0.2l0.3-1.7l0.3,5.8l0.3,4.5l0.3-3.3l0.3,12.5l0.3-13.5l0.3,12.3l0.3-0.6l0.3-2.5l0.3-0.3l0.3,0.7l0.3,0.6l0.3,8.4l0.3-14.9l0.3,16l0.3-9.1l0.3,5.4l0.3-1.1l0.3-3.2l0.3,3.6l0.3,3.1l0.3-6.9l0.3-1.4l0.3,14.3l0.3-4.7l0.3-13.1l0.3,17.1l0.3,3.2l0.3-11.1l0.3,4.2l0.3,1.5l0.3,0.8l0.3,2.6l0.3-1.7l0.3,5.5l0.3-7.8l0.3,2.5l0.3-2.2l0.3,7.1l0.3-5.3l0.3,4.9l0.3,1.8l0.3-6.2l0.3,1.9l0.3-1.4l0.3-1.1l0.3-0.1l0.3-0.4l0.3,3.9l0.3-10l0.3,13.1l0.3-12l0.3-0.3l0.3,1.7l0.3-6.6l0.3-5.3l0.3-12.9l0.3-2.4l0.3-19.1l0.3-13.3l0.3-8.8l0.3-18.8l0.3-5.1l0.3-10l0.3-9.4l0.3-10.8l0.3-2.7l0.3-2.2l0.3-12.2l0.3-2.1l0.3,2.6l0.3,3l0.3-1.9l0.3,3.2l0.3,6.7l0.3,4.9l0.3,1.9l0.3,5.7l0.3,7.6l0.3,0.9l0.3,9.1l0.3,4.9l0.3,10.7l0.3-3.3l0.3,13.6l0.3,6.6l0.3,9.6l0.3,8.2l0.3,1.7l0.3,6.7l0.3,4.1l0.3,8.3l0.3,7.5l0.3,1.5l0.3,3.5l0.3,8.2l0.3,1.9l0.3,1.6l0.3-4l0.3,5.4l0.3-5.1l0.3,8.2l0.3,9.2l0.3-20.2l0.3,17.7l0.3-2.7l0.3-3.5l0.3,0.1l0.3,3.8l0.3-1.5l0.3,0.2l0.3-5.5l0.3,11.5l0.3-7l0.3,3.3l0.3,1.9l0.3-0.7l0.3-0.2l0.3-4.4l0.3,10.6l0.3-1.3l0.3-0.3l0.3,0.9l0.3-6.1l0.3,5.2l0.3,5.1l0.3-9l0.3,11.3l0.3-8.4l0.3,1.2l0.3-5.3l0.3,7.5l0.3,1.2l0.3,1.4l0.3-1.5l0.3-3.7l0.3,1.9l0.3-3.1l0.3,4.8l0.3-7.2l0.3,3.2l0.3,0l0.3-10.7l0.3-1.1l0.3,5.2l0.3-4.8l0.3,1.2l0.3,4.9l0.3-15.4l0.3-7.2l0.3,2l0.3-9.2l0.3-12.3l0.3-9.1l0.3-10.9l0.3-12.2l0.3-13.2l0.3-13.4l0.3-15.2l0.3-17.5l0.3-19l0.3-20.8l0.3-20.4l0.3-6.5l0.3-5.8l0.3,1.4l0.3,8.4l0.3,1.2l0.3,7.7l0.3,13.9l0.3,3.9l0.3,10.3l0.3,12.3l0.3,9.6l0.3,19.3l0.3,19.2l0.3,22.4l0.3,5.1l0.3,5.6l0.3,9.6l0.3,6l0.3,0l0.3,6l0.3,11.8l0.3-7.2l0.3,6.2l0.3,8.5l0.3,1.6l0.3,1l0.3,10.9l0.3-5.1l0.3,4.7l0.3,7.2l0.3,0.3l0.3-5.7l0.3,8.1l0.3-2.9l0.3,12.9l0.3-19l0.3,17.7l0.3-11l0.3,3.7l0.3,3.8l0.3-0.7l0.3,1.8l0.3-3.5l0.3,0.1l0.3,3.4l0.3,3.7l0.3-2.8l0.3,2.5l0.3-6.2l0.3,4.1l0.3-1l0.3-6.1l0.3-1.7l0.3,6l0.3-1.6l0.3,11.6l0.3-16.8l0.3,13.8l0.3-8.7l0.3,5.2l0.3-5.3l0.3-1l0.3,3.5l0.3,1.8l0.3-0.2l0.3-2.4l0.3,3.3l0.3,3.6l0.3-17l0.3,16.8l0.3-8.3l0.3,8.5l0.3-1.2l0.3-6.1l0.3,4.2l0.3-11.9l0.3,11.7l0.3-19.9l0.3-0.5l0.3-12.9l0.3-13.9l0.3,1.2l0.3-9.7l0.3-7.9l0.3-13.3l0.3-6.2l0.3-11l0.3,0.7l0.3-11.6l0.3-11.8l0.3-3.8l0.3-7l0.3,3.3l0.3-4.5l0.3-9.1l0.3,2.9l0.3-3.2l0.3-2.3l0.3,7.9l0.3-3.1l0.3,5.9l0.3-15.9l0.3-12.2l0.3,12l0.3,19.1l0.3,4l0.3,3.8l0.3,11.2l0.3,6.3l0.3,5.4l0.3,5.7l0.3,7.2l0.3,1.7l0.3,9l0.3,4.1l0.3,10.8l0.3,5.1l0.3,11.8l0.3-1.5l0.3,18.5l0.3,12.1l0.3-3.2l0.3,6.1l0.3,11l0.3-9.2l0.3,6.2l0.3,4.6l0.3,8.7l0.3-2.7l0.3-4.1l0.3,7.3l0.3,4l0.3-4.2l0.3-4.6l0.3,7.7l0.3-4l0.3-8.5l0.3,11.3l0.3-2.7l0.3-7l0.3-4.3l0.3,10.4l0.3-1.7l0.3,0l0.3-15.2l0.3,27.8l0.3-26.1l0.3,16.5l0.3-6.9l0.3-3.8l0.3-3.4l0.3-3l0.3,9.2l0.3-10.6l0.3-3.5l0.3,22.8l0.3-23.4l0.3,8.6l0.3-13.8l0.3,16l0.3-5.6l0.3,0.1l0.3-6.1l0.3-1.1l0.3,5.5l0.3-10.9l0.3,6.8l0.3,4.2l0.3-9.2l0.3,5.8l0.3-2.4l0.3,6.2l0.3-9.1l0.3-4.3l0.3,0.9l0.3-17.7l0.3-6.2l0.3-7.9l0.3-14.7l0.3-4.2l0.3-14.6l0.3-6.8l0.3-11.3l0.3-18.9l0.3-5.4l0.3-14.2l0.3-7.9l0.3-6.4l0.3-0.5l0.3-8.6l0.3-11.3l0.3-5l0.3,0.7l0.3-7.3l0.3,2l0.3-5.2l0.3,36.1l0.3,67.8l0.3,59.5l0.3,6l0.3-2.4l0.3,10.6l0.3-4.8l0.3,9.1l0.3-5.2l0.3,6.8l0.3-1l0.3-6.8l0.3,8l0.3-1.8l0.3,6.7l0.3-0.9l0.3-5.2l0.3-0.9l0.3,11l0.3-14.3l0.3,19.2l0.3-16.3l0.3-1.6l0.3,24.9l0.3-19l0.3-6.1l0.3,11.4l0.3-4.9l0.3,2l0.3-6.3l0.3,7.5l0.3,2l0.3-4.4l0.3,3.7l0.3-7.2l0.3,11.3l0.3-16.6l0.3,12.5l0.3-10.3l0.3,8.4l0.3,7l0.3-16.1l0.3,10.1l0.3-7.7l0.3-1.7l0.3,6.1l0.3-1.7l0.3,0.9l0.3,4.3l0.3-3.8l0.3-4.4l0.3,1.6l0.3,4.5l0.3-5.6l0.3-0.4l0.3-6.2l0.3-19.5l0.3-7.1l0.3-6.6l0.3-11.9l0.3-11.1l0.3-12.4l0.3-10.6l0.3-11.8l0.3-7.2l0.3-12l0.3-2.2l0.3-6.6l0.3,3.7l0.3-9.9l0.3,1.8l0.3-6.1l0.3,1.6l0.3-4.6l0.3,6.2l0.3,4l0.3-9.1l0.3,12.8l0.3-1.2l0.3-1.5l0.3,4.5l0.3,2.3l0.3-2.8l0.3,9.7l0.3,2.2l0.3,10l0.3,7.4l0.3,8.4l0.3,7.6l0.3,7.2l0.3,2l0.3,16.4l0.3-1.7l0.3,5.4l0.3,3.3l0.3,8l0.3,7l0.3,3.8l0.3-0.8l0.3,12.8l0.3,3.2l0.3-14l0.3,18l0.3-6.1l0.3,2l0.3,8.7l0.3-11.5l0.3,13.2l0.3,1.5l0.3-9.1l0.3,5l0.3,3.7l0.3-2.4l0.3,10.4l0.3-12.7l0.3,15.3l0.3-10.7l0.3,15.1l0.3-6.5l0.3-5.8l0.3,16.2l0.3-11.6l0.3,4.4l0.3,4.2l0.3-16.5l0.3,7.7l0.3,9.2l0.3-11.6l0.3,8.2l0.3-9.9l0.3-2.2l0.3,6.3l0.3,2.8l0.3-4.3l0.3-3.1l0.3,2l0.3-1.6l0.3-2.1l0.3,9.7l0.3-14.5l0.3,2.1l0.3,6.7l0.3,3.7l0.3-3.5l0.3-2.8l0.3,0.1l0.3,4.1l0.3-8l0.3,2.8l0.3,1l0.3-17.8l0.3-3.1l0.3-7.6l0.3-9.5l0.3-7.5l0.3-3.2l0.3-15.9l0.3-9.2l0.3-5.7l0.3-11.8l0.3-11.1l0.3-4.8l0.3-9.9l0.3-10.1l0.3,1.2l0.3-7.9l0.3-4.7l0.3-8.6l0.3-2.7l0.3-9.4l0.3-7.9l0.3-7.5l0.3,7.1l0.3-3.4l0.3,9.5l0.3,6.5l0.3-2.1l0.3,8l0.3,7.6l0.3-1.4l0.3,6.6l0.3,4.9l0.3,5.5l0.3-2.3l0.3,14.6l0.3,5.9l0.3,9.6l0.3,10.2l0.3,9.3l0.3,11l0.3,3.8l0.3,10.4l0.3,5.1l0.3,3.4l0.3,10.6l0.3,8.8l0.3,0.3l0.3,4.9l0.3,6.2l0.3-3.5l0.3,8.2l0.3,1l0.3-5.6l0.3,7.9l0.3,3.1l0.3-9.4l0.3,8.2l0.3-4.5l0.3,5.9l0.3,1l0.3,8.5l0.3-16.6l0.3,7.5l0.3,1.4l0.3,2.7l0.3,1.9l0.3-4.2l0.3,7.5l0.3-11.6l0.3,9.6l0.3-7.4l0.3,4.9l0.3-7.4l0.3,11l0.3-2.8l0.3-0.1l0.3-5.5l0.3,16.3l0.3-12.9l0.3,3.4l0.3,1.7l0.3,0.6l0.3,2.9l0.3-7.7l0.3,5.4l0.3,2.7l0.3-5l0.3-2.8l0.3-0.8l0.3-2l0.3,1.7l0.3,0.3l0.3-12.5l0.3,14.5l0.3-10.6l0.3-7.3l0.3-0.7l0.3-16.6l0.3-3.8l0.3-5.2l0.3-5.3l0.3-8.7l0.3-8.9l0.3-6.9l0.3-13.6l0.3,1.4l0.3-15.5l0.3-3l0.3-8.1l0.3-8.3l0.3-5.2l0.3-5.1l0.3-4.6l0.3-4.5l0.3-3.8l0.3-4.9l0.3,3.5l0.3,7.8l0.3,15l0.3,7.7l0.3,25.8l0.3,4.6l0.3,10.3l0.3,7.2l0.3,3.8l0.3,1.2l0.3,5.9l0.3,0l0.3,7l0.3,1.6l0.3,0.5l0.3,8.8l0.3-1.9l0.3,5.2l0.3-1l0.3,3.8l0.3,1.7l0.3-5.8l0.3,10.4l0.3-2.8l0.3,2.4l0.3-3.8l0.3,11.9l0.3-0.5l0.3-3.6l0.3,6.8l0.3-9.6l0.3,19.1l0.3-11.7l0.3,10.8l0.3-12.1l0.3,18.1l0.3-8.6l0.3,8.1l0.3-7.2l0.3,6l0.3,8.3l0.3-19.6l0.3,10.1l0.3,3.2l0.3-1.7l0.3,11.2l0.3-3.2l0.3-9l0.3,4l0.3,13.7l0.3-7.8l0.3-0.5l0.3,1.6l0.3-8.4l0.3,7.5l0.3-6.8l0.3,2.5l0.3,8.3l0.3-12.6l0.3,14.9l0.3-17l0.3,2l0.3,5.4l0.3-1.4l0.3-8.1l0.3-2.9l0.3,9.7l0.3-1.7l0.3-10l0.3,3.6l0.3,6.4l0.3-8.9l0.3-2.9l0.3,4.8l0.3-4.7l0.3,1.3l0.3-10.2l0.3-5.5l0.3-12l0.3-13.4l0.3-1.6l0.3-10.7l0.3-10.5l0.3-7.4l0.3-13.2l0.3-7.2l0.3-3.8l0.3-14.4l0.3-4.2l0.3,3.1l0.3-13l0.3,0l0.3-6l0.3-0.7l0.3-1.7l0.3,2.4l0.3,2.6l0.3-3.4l0.3,13.9l0.3-6l0.3,5.9l0.3,6l0.3-1.1l0.3,1.6l0.3,12.5l0.3-5.6l0.3,13.4l0.3,5.5l0.3,9.9l0.3,1.5l0.3,13.2l0.3,0.5l0.3,12l0.3-1.8l0.3,9.8l0.3,11l0.3-0.1l0.3,7.6l0.3,9.7l0.3-4.3l0.3,5.2l0.3,11.4l0.3-8.8l0.3,15.5l0.3-4.1l0.3-4.5l0.3,5.9l0.3,3.6l0.3-2.3l0.3-2.6l0.3,8.4l0.3-13.6l0.3,14l0.3-2.7l0.3,2l0.3,1.1l0.3-8.6l0.3,9.1l0.3-7.9l0.3,1.1l0.3-0.5l0.3,3.2l0.3,5.5l0.3-8.4l0.3,6.9l0.3-0.3l0.3-3.9l0.3,2l0.3-7.9l0.3,2.1l0.3,8.8l0.3-9.4l0.3,3.6l0.3-7l0.3,6.6l0.3-5.2l0.3-2.1l0.3-3.9l0.3-3.3l0.3-2l0.3-0.6l0.3,1.6l0.3-5.3l0.3,8.1l0.3-8.8l0.3,5.6l0.3-5.5l0.3,0.8l0.3,4.6l0.3-11.4l0.3,0.6l0.3,1.1l0.3-3.4l0.3,1.3l0.3-14.1l0.3-1.3l0.3-11.5l0.3-2.4l0.3-10.3l0.3-6.9l0.3-15.5l0.3-2.9l0.3-11.2l0.3-8.5l0.3,15l0.3,27.8l0.3,17.8l0.3-3.9l0.3-25.9l0.3-24.4l0.3-16.5l0.3,12l0.3,13.4l0.3,27.8l0.3,19.9l0.3-1.2l0.3-21.3l0.3-25.9l0.3,13.5l0.3,17.8l0.3,18.9l0.3,14.6l0.3,3.3l0.3,9.1l0.3,6.5l0.3,2.6l0.3-19.2l0.3-15.3l0.3-19.8l0.3-19.6l0.3-7.4l0.3,8.3l0.3,20.8l0.3,11.7l0.3,16.2l0.3,14.9l0.3,17.7l0.3-14.9l0.3,1.5l0.3,0l0.3-2.2l0.3,1.2l0.3-7.3l0.3,6l0.3-12.6l0.3,9.5l0.3-6.1l0.3,11.2l0.3-10.3l0.3,4.8l0.3,1.8l0.3-0.8l0.3-6l0.3,6.8l0.3-3.5l0.3,6.1l0.3-3.1l0.3,0.6l0.3,0.6l0.3,2.5l0.3-0.8l0.3,4.3l0.3,1.7l0.3-13.3l0.3,17.9l0.3-4.2l0.3,4.7l0.3-7.6l0.3,6.6l0.3-5.1l0.3,8.6l0.3-7.1l0.3-0.3l0.3,1.1l0.3-5.3l0.3-2.7l0.3,6.5l0.3-6.1l0.3-2.4l0.3,1.4l0.3-4.4l0.3-7.9l0.3,3.7l0.3,3.5l0.3-7.5l0.3-8.2l0.3-0.1l0.3-0.6l0.3-2.4l0.3-4.3l0.3,2l0.3-10.4l0.3-3.5l0.3-1.8l0.3-12.7l0.3-2.4l0.3-6l0.3-7.2l0.3-8.8l0.3-2.6l0.3-7.3l0.3,1.3l0.3-13.4l0.3-9.3l0.3-1.7l0.3-3.4l0.3-0.3l0.3,11.1l0.3,4.4l0.3,1.4l0.3,4l0.3-1.3l0.3,7.9l0.3,0.6l0.3,9.9l0.3,0l0.3,12.4l0.3,19.7l0.3,10.2l0.3,5.3l0.3,11.2l0.3,7l0.3,4.8l0.3-11.2l0.3-10.5l0.3,5.6l0.3-2.9l0.3,4.5l0.3,0.9l0.3,8.4l0.3,8.9l0.3,1.3l0.3,24.7l0.3-0.1l0.3-7.1l0.3,3.8l0.3-8.3l0.3,10.4l0.3-8.5l0.3-3l0.3-5l0.3,7.5l0.3,4.5l0.3-3.5l0.3-7.7l0.3,6.5l0.3-10l0.3,6.6l0.3-0.2l0.3,1.2l0.3-8.5l0.3,13.1l0.3-6.5l0.3-10.1l0.3,6.2l0.3,6.5l0.3-8.6l0.3-3.6l0.3,12.5l0.3-7.7l0.3-0.2l0.3,7.6l0.3-9.3l0.3,2.2l0.3,4.4l0.3-5l0.3,1.7l0.3,1.1l0.3-5.2l0.3,1.6l0.3,4.2l0.3-7l0.3,0.3l0.3-1.6l0.3-0.6l0.3,1.6l0.3-6.3l0.3,7.3l0.3-10l0.3,7.3l0.3-5.5l0.3,2.3l0.3-2.3l0.3-1.5l0.3-8.6l0.3,3.7l0.3-4l0.3-1.9l0.3-2.4l0.3,0.6l0.3-8.5l0.3,3.5l0.3-5.4l0.3-3.1l0.3-2.7l0.3-6.8l0.3-1.3l0.3-20.3l0.3,3.5l0.3-10.8l0.3-4.8l0.3-6.3l0.3-1.1l0.3-7.7l0.3-10.8l0.3,8.3l0.3,6.9l0.3,4.3l0.3,13.9l0.3,1.8l0.3,15.9l0.3,3.2l0.3,18.7l0.3-1.7l0.3,10.6l0.3,15.4l0.3,1.5l0.3,7.3l0.3-8.1l0.3,6.7l0.3,2.7l0.3,4l0.3-6l0.3,11.5l0.3-1.9l0.3,0.8l0.3,5.3l0.3,0.5l0.3-2.3l0.3,10.3l0.3-15.1l0.3,15.9l0.3-9.4l0.3-4.8l0.3,0.6l0.3,4.7l0.3,1.7l0.3-2.2l0.3-4.5l0.3,1.5l0.3-8.6l0.3,6.5l0.3-9l0.3,11.9l0.3-9.8l0.3-1.9l0.3,3.5l0.3-5.4l0.3-8.8l0.3,12.4l0.3-10.2l0.3,7.9l0.3-1.7l0.3-9.9l0.3,7.4l0.3-2.3l0.3,1.4l0.3-1.1l0.3-0.7l0.3-9l0.3,8.5l0.3-11l0.3,8.5l0.3,0.6l0.3-1.5l0.3-1.4l0.3,5.4l0.3,0l0.3-0.4l0.3,1.2l0.3-8.7l0.3,8.6l0.3-3.4l0.3,0.1l0.3,0.7l0.3,3.6l0.3-4.2l0.3,1.9l0.3-5.5l0.3-2.1l0.3-16.6l0.3,5l0.3-15.5l0.3-4.8l0.3-9.2l0.3-9l0.3-4.1l0.3-11l0.3-4.9l0.3-12.8l0.3,3.6l0.3-11.3l0.3-3.1l0.3-3.6l0.3-3.1l0.3-3.8l0.3,1.3l0.3,2.2l0.3,1.9l0.3,1.4l0.3,8.2l0.3,1.1l0.3,7.6l0.3,10l0.3,8.2l0.3,14.4l0.3,8.9l0.3,6l0.3-1.9l0.3,4.2l0.3-7.8l0.3,3.4l0.3,1.6l0.3,9.7l0.3,9.6l0.3,1l0.3,8.9l0.3,2.4l0.3,9l0.3-3.6l0.3,7.9l0.3,3.9l0.3,4.4l0.3,11.7l0.3,7.7l0.3-13.4l0.3,18.8l0.3-9.8l0.3-5.7l0.3,3.6l0.3-5l0.3-2.7l0.3,12.9l0.3-16.5l0.3,23.8l0.3-1.8l0.3,1.2l0.3,6.9l0.3-0.2l0.3-6.4l0.3,0.3l0.3-2.7l0.3-13.3l0.3,16.9l0.3-9.7l0.3-9.3l0.3,2l0.3-10.1l0.3,10.3l0.3-6.9l0.3,2l0.3,4.9l0.3-9.9l0.3,8l0.3-8.1l0.3,10.8l0.3-4.4l0.3-3.9l0.3,1.5l0.3,8.6l0.3-19.5l0.3,7.6l0.3-1.3l0.3,6.3l0.3-1.7l0.3-8l0.3,1.7l0.3,1.4l0.3,1.6l0.3-8.1l0.3,9.4l0.3-4.7l0.3-3.7l0.3,3.3l0.3-1.6l0.3,0.4l0.3-9.3l0.3,8.7l0.3-9.2l0.3,1l0.3,0.5l0.3-9.9l0.3-10.9l0.3-10.6l0.3-6.2l0.3-2.6l0.3-9.1l0.3-11l0.3-3.9l0.3-10.8l0.3-0.8l0.3-2.3l0.3-4.4l0.3,0l0.3-0.7l0.3-5l0.3-2.4l0.3,3.4l0.3-3.2l0.3,5.3l0.3-2l0.3,3.7l0.3,4.3l0.3,1.9l0.3,2.9l0.3,5.9l0.3,9l0.3,7.9l0.3,11.9l0.3,3.6l0.3,17.1l0.3,6.6l0.3,6.8l0.3,1.5l0.3,4.6l0.3,6.5l0.3-0.8l0.3,0.3l0.3,12.9l0.3-7.3l0.3-3.2l0.3,10.9l0.3-7.9l0.3,11.9l0.3-9l0.3,2.5l0.3,3.7l0.3-2.1l0.3,4.9l0.3-1.7l0.3,0.9l0.3-0.4l0.3-8.2l0.3,22.8l0.3-16.4l0.3,13l0.3-3.4l0.3-6.1l0.3,0.3l0.3,3l0.3,0.1l0.3-1.9l0.3,0.4l0.3-1.9l0.3,9l0.3-9.2l0.3,7.6l0.3-7l0.3,4l0.3-2.3l0.3,1.8l0.3-1.9l0.3-4.5l0.3-1.5l0.3,2.8l0.3,9.5l0.3-13.7l0.3,4.8l0.3,5.6l0.3-7.5l0.3-2.4l0.3-3.4l0.3,11.2l0.3-16.5l0.3,2.4l0.3-7.3l0.3-7.4l0.3-3.2l0.3-0.6l0.3-9l0.3-9l0.3-11.1l0.3-10.2l0.3-7.8l0.3-12.5l0.3,2l0.3-1.8l0.3,9l0.3-0.1l0.3,6l0.3,2l0.3-12.5l0.3-1.6l0.3-13.5l0.3-3.8l0.3,11.5l0.3,17.3l0.3-3.4l0.3-12.9l0.3-15l0.3-16.4l0.3,5l0.3-1.7l0.3,9.5l0.3-3.4l0.3,1.4l0.3-1.2l0.3,8.3l0.3,0l0.3,4.6l0.3,2.7l0.3,7.5l0.3,3.6l0.3,10.6l0.3,3.1l0.3,6.1l0.3,7.9l0.3,6.3l0.3,10.5l0.3,3.4l0.3,9.3l0.3,2.2l0.3,3l0.3,10.2l0.3-7.3l0.3,9.7l0.3-2.9l0.3-5.7l0.3,9l0.3,1.4l0.3,0l0.3,1.8l0.3,8.9l0.3-8.5l0.3,5.2l0.3-4.2l0.3,5.4l0.3-5.3l0.3,5.4l0.3-0.4l0.3-4l0.3-0.3l0.3-0.6l0.3,6.4l0.3-2.2l0.3-1.7l0.3,0.9l0.3,6.4l0.3,3.4l0.3-15l0.3,9.5l0.3-3.3l0.3-12.6l0.3,15.7l0.3-12.2l0.3,7.7l0.3-13.6l0.3,1.7l0.3,1.2l0.3,0.3l0.3-0.8l0.3,5.4l0.3-3.6l0.3,9.7l0.3,2.4l0.3,3.1l0.3-6.5l0.3,2.6l0.3,2.8l0.3-5.2l0.3-0.4l0.3-8.5l0.3-7.3l0.3-2.7l0.3-11.8l0.3-13.2l0.3-15.8l0.3-17.4l0.3-15.9l0.3-7.4l0.3-13.1l0.3,1.6l0.3-8l0.3-6.8l0.3,4.6l0.3-6.1l0.3-5.2l0.3,0.9l0.3-5.3l0.3-8.9l0.3,7.8l0.3-6l0.3,2l0.3,2.5l0.3-2.1l0.3,6.2l0.3,3.3l0.3,4.8l0.3,6l0.3,1.1l0.3,7.9l0.3,6.5l0.3,0.1l0.3,6.5l0.3,0l0.3,11.6l0.3,4.6l0.3,8.1l0.3,4.6l0.3,10.8l0.3,2.5l0.3,9.4l0.3,8.1l0.3,8.9l0.3,2.9l0.3,12.3l0.3,1.9l0.3,5l0.3,2.6l0.3,3.1l0.3,0.8l0.3-1.3l0.3-1.1l0.3,4.2l0.3-3.3l0.3,6.4l0.3-7.4l0.3-3.4l0.3,18.4l0.3-12.9l0.3,0l0.3,8.5l0.3-3.5l0.3,14l0.3-13.5l0.3-2.8l0.3,13l0.3-8.9l0.3,11.3l0.3-16.4l0.3,4.4l0.3,11.5l0.3-8l0.3,0.6l0.3-6.2l0.3,13.4l0.3-3l0.3-16.2l0.3,20.7l0.3-14.7l0.3,15.3l0.3-14.8l0.3,3.4l0.3,6.5l0.3-5.4l0.3-2.3l0.3,7.6l0.3-8.1l0.3-1.2l0.3,16.9l0.3-19l0.3,5.5l0.3,3.8l0.3-9.5l0.3,5.5l0.3-1.3l0.3-8.1l0.3-5.5l0.3-6l0.3-13.3l0.3-3.6l0.3-10.9l0.3-13.4l0.3-3.7l0.3-12.5l0.3-1.1l0.3-13l0.3-7.5l0.3-9.7l0.3-0.1l0.3-8l0.3,0.8l0.3-6.8l0.3-2.3l0.3,2.9l0.3-6.9l0.3-6.5l0.3,4.1l0.3-4.8l0.3,4.5l0.3,3.5l0.3,1.6l0.3,6.7l0.3,5l0.3,8l0.3,2.2l0.3,1.6l0.3,10.8l0.3-2.6l0.3,7.5l0.3,5.5l0.3,3.6l0.3,10.9l0.3-2.5l0.3,5.5l0.3,12.4l0.3-2.1l0.3,8.5l0.3,0.1l0.3,20.6l0.3-0.7l0.3,7.8l0.3,5.6l0.3,5.6l0.3-6.6l0.3,10.3l0.3-6.3l0.3,8.1l0.3,6l0.3-4.3l0.3-2.5l0.3,12.3l0.3-5.6l0.3-0.6l0.3,6l0.3-6.9l0.3-2.2l0.3,4.4l0.3,8.4l0.3-20l0.3,14.4l0.3-4.6l0.3-2l0.3-8l0.3,6.8l0.3-2.5l0.3,0.8l0.3-6.5l0.3,2.6l0.3,8.5l0.3-6.6l0.3-3.8l0.3-1.9l0.3,5.9l0.3-4.3l0.3,2.5l0.3-10.4l0.3,9.6l0.3-5.1l0.3-2.5l0.3,7.4l0.3-4.7l0.3-1.6l0.3,3.4l0.3-8.9l0.3,9.7l0.3-2.4l0.3-2.9l0.3,1.7l0.3-9.4l0.3,3.1l0.3,4.2l0.3-3.9l0.3,1.7l0.3-9.1l0.3-3.1l0.3,3.9l0.3-10.4l0.3-1.7l0.3,6.1l0.3-15.8l0.3-0.7l0.3-6.9l0.3-3.8l0.3-12.1l0.3-2.4l0.3-12.6l0.3-3.8l0.3-5.9l0.3-22.2l0.3-20.3l0.3-11.4l0.3,0.4l0.3,19.9l0.3,25.6l0.3-10.8l0.3-20.4l0.3-20.3l0.3-4.7l0.3,1.8l0.3,6.4l0.3,1.8l0.3,13.1l0.3,6.5l0.3-2.7l0.3,10.6l0.3,7.7l0.3,5.9l0.3,7.5l0.3,3.8l0.3,15.4l0.3,1l0.3,12l0.3,10.6l0.3,3.1l0.3,9.1l0.3,7.7l0.3-4l0.3,8.5l0.3,0.9l0.3,8.2l0.3,2.1l0.3,4.6l0.3-0.7l0.3,4.6l0.3,2.6l0.3-2.2l0.3,2.3l0.3,3.2l0.3,8l0.3-5.9l0.3,4.3l0.3-2.8l0.3-4.7l0.3,7.8l0.3-9.9l0.3,19.5l0.3-13.6l0.3-1.2l0.3,0.4l0.3,7.3l0.3-12.9l0.3,10.7l0.3,3.5l0.3-5.5l0.3,0.1l0.3,6.3l0.3-11.3l0.3,10.4l0.3-6.1l0.3,1.3l0.3,5.3l0.3-9.3l0.3,13.7l0.3-16.6l0.3,16.7l0.3-17.3l0.3,14.4l0.3-11.6l0.3,3.9l0.3,6.1l0.3-1.5l0.3-7.3l0.3,14.5l0.3-13.7l0.3,8.7l0.3-2.6l0.3-1.3l0.3-10.6l0.3,16.9l0.3-15.1l0.2-1.8"/>
</g>
</svg>
</body></html>
